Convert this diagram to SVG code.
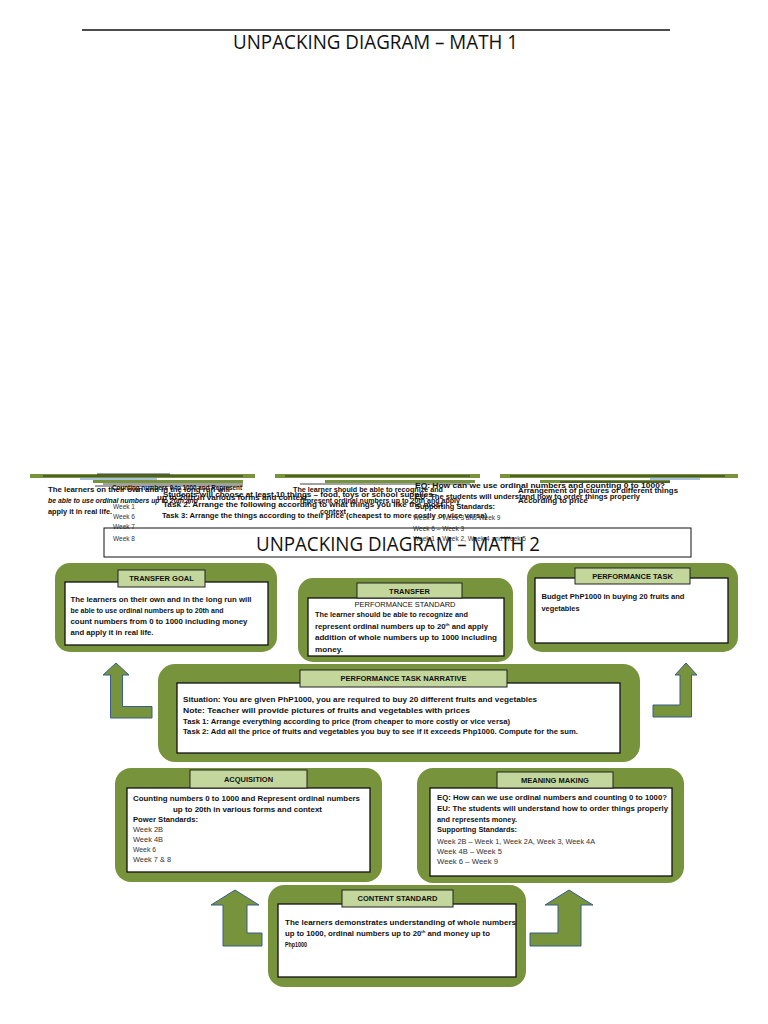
<svg xmlns="http://www.w3.org/2000/svg" width="768" height="1024" viewBox="0 0 768 1024">
<style>
text{font-family:"Liberation Sans",Arial,sans-serif;fill:#111}
.t{font-size:7.5px;font-weight:700}
.r{font-size:7px;font-weight:400;fill:#333}
.lbl{font-size:7.5px;font-weight:700;text-anchor:middle}
.outer{fill:#77933c}
.inner{fill:#fff;stroke:#111;stroke-width:1.3}
.label{fill:#c3d69b;stroke:#222;stroke-width:1}
.arrow{fill:#77933c;stroke:#385d8a;stroke-width:1}
.title{font-size:20px;font-family:"Open Sans","Liberation Sans",sans-serif;fill:#111}
.g{font-size:7px;font-weight:700}
.gr{font-size:6.5px;fill:#333}
</style>
<rect width="768" height="1024" fill="#fff"/>

<g id="page1-title">
<line x1="82" y1="30" x2="670" y2="30" stroke="#111" stroke-width="1.5"/>
<text class="title" x="233" y="49" textLength="285" lengthAdjust="spacingAndGlyphs">UNPACKING DIAGRAM – MATH 1</text>
</g>

<g id="collapsed-page1">
<rect x="30" y="474" width="225" height="4" fill="#77933c"/>
<rect x="275" y="474" width="205" height="4" fill="#77933c"/>
<rect x="500" y="474" width="238" height="4" fill="#77933c"/>
<rect x="93" y="480" width="150" height="3" fill="#77933c"/>
<rect x="325" y="480" width="150" height="3" fill="#77933c"/>
<rect x="540" y="480" width="130" height="3" fill="#77933c"/>
<line x1="80" y1="479" x2="157" y2="479" stroke="#4f81bd" stroke-width="1.2"/>
<line x1="650" y1="479" x2="700" y2="479" stroke="#4f81bd" stroke-width="1.2"/>
<line x1="43" y1="476" x2="243" y2="476" stroke="#111" stroke-width="0.8"/>
<line x1="97" y1="474" x2="170" y2="474" stroke="#111" stroke-width="0.8"/>
<line x1="103" y1="484" x2="243" y2="484" stroke="#111" stroke-width="0.8"/>
<line x1="95" y1="486" x2="243" y2="486" stroke="#111" stroke-width="0.8"/>
<line x1="285" y1="476" x2="470" y2="476" stroke="#111" stroke-width="0.8"/>
<line x1="300" y1="484" x2="470" y2="484" stroke="#111" stroke-width="0.8"/>
<line x1="510" y1="476" x2="725" y2="476" stroke="#111" stroke-width="0.8"/>
<line x1="560" y1="482" x2="670" y2="482" stroke="#111" stroke-width="0.8"/>
<text class="g" x="48" y="492" textLength="182" lengthAdjust="spacingAndGlyphs">The learners on their own and in the long run will</text>
<text class="g" x="112" y="490" textLength="130" lengthAdjust="spacingAndGlyphs">Counting numbers 0 to 1000 and Represent</text>
<text class="g" x="163" y="497" textLength="272" lengthAdjust="spacingAndGlyphs">Students will choose at least 10 things – food, toys or school supplies.</text>
<text class="g" x="48" y="503" font-style="italic" textLength="150" lengthAdjust="spacingAndGlyphs">be able to use ordinal numbers up to 20th and</text>
<text class="g" x="157" y="500" textLength="150" lengthAdjust="spacingAndGlyphs">up to 20th in various forms and context</text>
<text class="g" x="163" y="507" textLength="280" lengthAdjust="spacingAndGlyphs">Task 2: Arrange the following according to what things you like the most</text>
<text class="g" x="48" y="514" textLength="64" lengthAdjust="spacingAndGlyphs">apply it in real life.</text>
<text class="g" x="162" y="518" textLength="325" lengthAdjust="spacingAndGlyphs">Task 3: Arrange the things according to their price (cheapest to more costly or vice versa)</text>
<text class="g" x="293" y="492" textLength="150" lengthAdjust="spacingAndGlyphs">The learner should be able to recognize and</text>
<text class="g" x="300" y="503" textLength="160" lengthAdjust="spacingAndGlyphs">represent ordinal numbers up to 20th and apply</text>
<text class="g" x="320" y="514" textLength="26" lengthAdjust="spacingAndGlyphs">context</text>
<text class="gr" x="113" y="509">Week 1</text>
<text class="gr" x="113" y="519">Week 6</text>
<text class="gr" x="113" y="529">Week 7</text>
<text class="gr" x="113" y="541">Week 8</text>
<text class="g" x="415" y="488" textLength="250" lengthAdjust="spacingAndGlyphs">EQ: How can we use ordinal numbers and counting 0 to 1000?</text>
<text class="g" x="415" y="499" textLength="225" lengthAdjust="spacingAndGlyphs">EU: The students will understand how to order things properly</text>
<text class="g" x="415" y="509" textLength="80" lengthAdjust="spacingAndGlyphs">Supporting Standards:</text>
<text class="gr" x="413" y="520">Week 1 – Week 3 and Week 9</text>
<text class="gr" x="413" y="531">Week 6 – Week 3</text>
<text class="gr" x="413" y="541">Week 1 – Week 2, Week 4 and Week 5</text>
<text class="g" x="518" y="493" textLength="160" lengthAdjust="spacingAndGlyphs">Arrangement of pictures of different things</text>
<text class="g" x="518" y="503" textLength="70" lengthAdjust="spacingAndGlyphs">According to price</text>
</g>

<g id="page2-title">
<rect x="104" y="528" width="587" height="29" fill="none" stroke="#111" stroke-width="1"/>
<text class="title" x="256" y="551" textLength="284" lengthAdjust="spacingAndGlyphs">UNPACKING DIAGRAM – MATH 2</text>
</g>

<g id="connectors">
<path class="arrow" d="M116,663 L129,675 L122.5,675 L122.5,706.5 L152,706.5 L152,718 L110.5,718 L110.5,675 L103,675 Z"/>
<path class="arrow" d="M686,663 L697,675 L691.5,675 L691.5,717 L653,717 L653,705 L680,705 L680,675 L675,675 Z"/>
<path class="arrow" d="M235,890 L259,905 L247,905 L247,933 L262,933 L262,946 L223,946 L223,905 L211,905 Z"/>
<path class="arrow" d="M569,890 L593,905 L581,905 L581,946 L530,946 L530,933 L558,933 L558,905 L545,905 Z"/>
</g>

<g id="transfer-goal">
<rect class="outer" x="55" y="563" width="222" height="89" rx="15"/>
<rect class="inner" x="65" y="582" width="203" height="63"/>
<rect class="label" x="118" y="570" width="87" height="17"/>
<text class="lbl" x="161.5" y="581">TRANSFER GOAL</text>
<text class="t" x="70.5" y="602" textLength="181" lengthAdjust="spacingAndGlyphs">The learners on their own and in the long run will</text>
<text class="t" x="70.5" y="613" textLength="153" lengthAdjust="spacingAndGlyphs">be able to use ordinal numbers up to 20th and</text>
<text class="t" x="70.5" y="624" textLength="177" lengthAdjust="spacingAndGlyphs">count numbers from 0 to 1000 including money</text>
<text class="t" x="70.5" y="635" textLength="83" lengthAdjust="spacingAndGlyphs">and apply it in real life.</text>
</g>

<g id="transfer">
<rect class="outer" x="298" y="578" width="215" height="84" rx="15"/>
<rect class="inner" x="308" y="598" width="196" height="58"/>
<rect class="label" x="357" y="583" width="105" height="15"/>
<text class="lbl" x="409.5" y="594">TRANSFER</text>
<text x="405" y="606.5" font-size="7.5" text-anchor="middle" textLength="101" lengthAdjust="spacingAndGlyphs">PERFORMANCE STANDARD</text>
<text class="t" x="315" y="617" textLength="153" lengthAdjust="spacingAndGlyphs">The learner should be able to recognize and</text>
<text class="t" x="315" y="628.5" textLength="173" lengthAdjust="spacingAndGlyphs">represent ordinal numbers up to 20<tspan font-size="4" dy="-3">th</tspan><tspan dy="3"> and apply</tspan></text>
<text class="t" x="315" y="640" textLength="182" lengthAdjust="spacingAndGlyphs">addition of whole numbers up to 1000 including</text>
<text class="t" x="315" y="651.5" textLength="28" lengthAdjust="spacingAndGlyphs">money.</text>
</g>

<g id="performance-task">
<rect class="outer" x="527" y="563" width="211" height="89" rx="15"/>
<rect class="inner" x="535" y="578" width="193" height="65"/>
<rect class="label" x="575" y="568" width="115" height="16"/>
<text class="lbl" x="632.5" y="579">PERFORMANCE TASK</text>
<text class="t" x="541.5" y="599" textLength="143" lengthAdjust="spacingAndGlyphs">Budget PhP1000 in buying 20 fruits and</text>
<text class="t" x="541.5" y="611" textLength="38" lengthAdjust="spacingAndGlyphs">vegetables</text>
</g>

<g id="performance-task-narrative">
<rect class="outer" x="158" y="664" width="482" height="98" rx="17"/>
<rect class="inner" x="177" y="683" width="443" height="70"/>
<rect class="label" x="300" y="670" width="207" height="17"/>
<text class="lbl" x="403.5" y="681">PERFORMANCE TASK NARRATIVE</text>
<text class="t" x="183" y="702" textLength="354" lengthAdjust="spacingAndGlyphs">Situation: You are given PhP1000, you are required to buy 20 different fruits and vegetables</text>
<text class="t" x="183" y="713" textLength="287" lengthAdjust="spacingAndGlyphs">Note: Teacher will provide pictures of fruits and vegetables with prices</text>
<text class="t" x="183" y="723.5" textLength="327" lengthAdjust="spacingAndGlyphs">Task 1: Arrange everything according to price (from cheaper to more costly or vice versa)</text>
<text class="t" x="183" y="734" textLength="395" lengthAdjust="spacingAndGlyphs">Task 2: Add all the price of fruits and vegetables you buy to see if it exceeds Php1000. Compute for the sum.</text>
</g>

<g id="acquisition">
<rect class="outer" x="115" y="768" width="267" height="114" rx="16"/>
<rect class="inner" x="127" y="788" width="243" height="84"/>
<rect class="label" x="190" y="770" width="117" height="18"/>
<text class="lbl" x="248.5" y="782">ACQUISITION</text>
<text class="t" x="133" y="800.5" textLength="227" lengthAdjust="spacingAndGlyphs">Counting numbers 0 to 1000 and Represent ordinal numbers</text>
<text class="t" x="173" y="811.5" textLength="149" lengthAdjust="spacingAndGlyphs">up to 20th in various forms and context</text>
<text class="t" x="133" y="822" textLength="65" lengthAdjust="spacingAndGlyphs">Power Standards:</text>
<text class="r" x="133" y="832" textLength="30" lengthAdjust="spacingAndGlyphs">Week 2B</text>
<text class="r" x="133" y="842" textLength="30" lengthAdjust="spacingAndGlyphs">Week 4B</text>
<text class="r" x="133" y="852" textLength="23" lengthAdjust="spacingAndGlyphs">Week 6</text>
<text class="r" x="133" y="862" textLength="38" lengthAdjust="spacingAndGlyphs">Week 7 &amp; 8</text>
</g>

<g id="meaning-making">
<rect class="outer" x="417" y="768" width="267" height="115" rx="16"/>
<rect class="inner" x="430" y="788" width="242" height="88"/>
<rect class="label" x="497" y="772" width="116" height="16"/>
<text class="lbl" x="555" y="783">MEANING MAKING</text>
<text class="t" x="437" y="800" textLength="230" lengthAdjust="spacingAndGlyphs">EQ: How can we use ordinal numbers and counting 0 to 1000?</text>
<text class="t" x="437" y="811" textLength="231" lengthAdjust="spacingAndGlyphs">EU: The students will understand how to order things properly</text>
<text class="t" x="437" y="821.5" textLength="80" lengthAdjust="spacingAndGlyphs">and represents money.</text>
<text class="t" x="437" y="832" textLength="80" lengthAdjust="spacingAndGlyphs">Supporting Standards:</text>
<text class="r" x="437" y="844" textLength="158" lengthAdjust="spacingAndGlyphs">Week 2B – Week 1, Week 2A, Week 3, Week 4A</text>
<text class="r" x="437" y="853.5" textLength="65" lengthAdjust="spacingAndGlyphs">Week 4B – Week 5</text>
<text class="r" x="437" y="863.5" textLength="61" lengthAdjust="spacingAndGlyphs">Week 6 – Week 9</text>
</g>

<g id="content-standard">
<rect class="outer" x="268" y="885" width="258" height="102" rx="16"/>
<rect class="inner" x="278" y="904" width="238" height="73"/>
<rect class="label" x="342" y="890" width="111" height="17"/>
<text class="lbl" x="397.5" y="901">CONTENT STANDARD</text>
<text class="t" x="285" y="925" textLength="231" lengthAdjust="spacingAndGlyphs">The learners demonstrates understanding of whole numbers</text>
<text class="t" x="285" y="936" textLength="205" lengthAdjust="spacingAndGlyphs">up to 1000, ordinal numbers up to 20<tspan font-size="4" dy="-3">th</tspan><tspan dy="3"> and money up to</tspan></text>
<text class="t" x="285" y="947" textLength="22" lengthAdjust="spacingAndGlyphs">Php1000</text>
</g>
</svg>
